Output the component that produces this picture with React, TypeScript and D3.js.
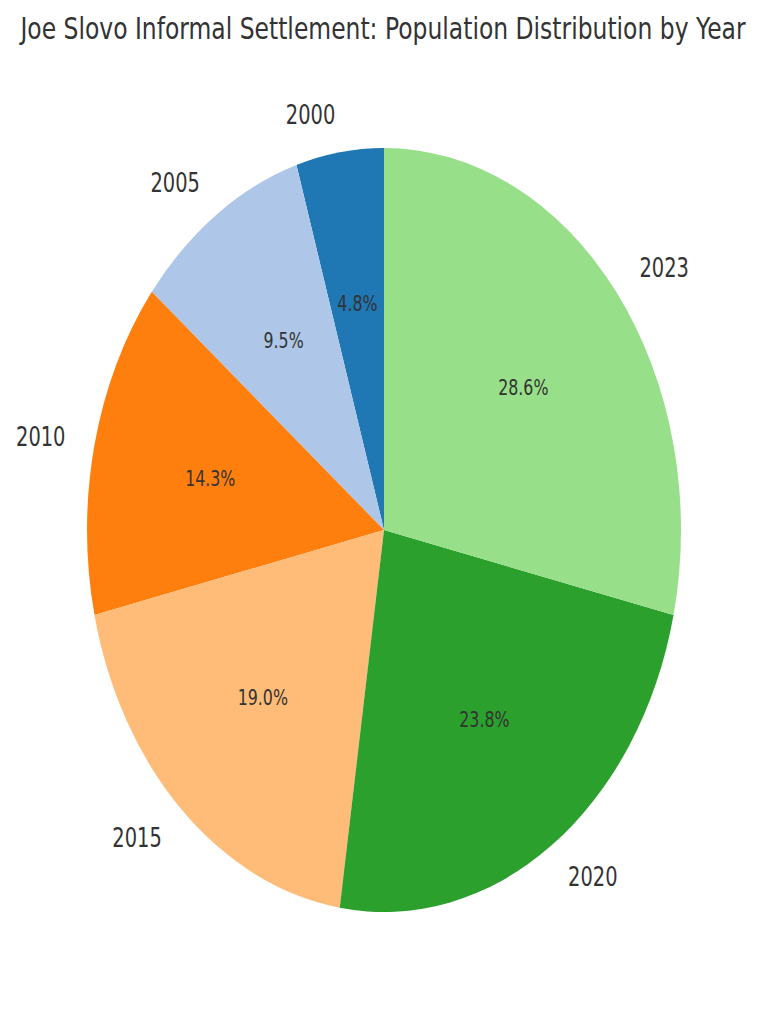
import * as d3 from 'd3';

const years = ['2000', '2005', '2010', '2015', '2020', '2023'];
const population = [5000, 10000, 15000, 20000, 25000, 30000];
const colors = ['#1f77b4', '#aec7e8', '#ff7f0e', '#ffbb78', '#2ca02c', '#98df8a'];

const W = 768;
const H = 1024;
const cx = 384;
const cy = 530;
const ry = 382;
const rx = 297;
const sx = rx / ry;
// text is squeezed horizontally like the rest of the figure
const textSx = 0.72;

const App = () => {
  const total = d3.sum(population);
  const pie = d3
    .pie<number>()
    .sort(null)
    .startAngle(0)
    .endAngle(-2 * Math.PI);
  const arcs = pie(population);
  const arc = d3.arc<d3.PieArcDatum<number>>().innerRadius(0).outerRadius(ry);

  const pos = (a: number, f: number) => [
    cx + f * rx * Math.sin(a),
    cy - f * ry * Math.cos(a),
  ];

  return (
    <svg width={W} height={H} style={{ position: 'absolute', left: 0, top: 0 }} fontFamily="DejaVu Sans">
      <text
        transform={`translate(${W / 2 - 1},39) scale(0.782,1)`}
        textAnchor="middle"
        fontSize={30}
        fill="#333"
      >
        Joe Slovo Informal Settlement: Population Distribution by Year
      </text>
      <g transform={`translate(${cx},${cy}) scale(${sx},1)`}>
        {arcs.map((d, i) => (
          <path key={years[i]} d={arc(d) || ''} fill={colors[i]} />
        ))}
      </g>
      {arcs.map((d, i) => {
        const mid = (d.startAngle + d.endAngle) / 2;
        const [lx, ly] = pos(mid, 1.1);
        const [px, py] = pos(mid, 0.6);
        const anchor = Math.sin(mid) < 0 ? 'end' : 'start';
        return (
          <g key={'t' + years[i]}>
            <text
              transform={`translate(${lx},${ly}) scale(${textSx},1)`}
              textAnchor={anchor}
              dominantBaseline="central"
              fontSize={27}
              fill="#333"
            >
              {years[i]}
            </text>
            <text
              transform={`translate(${px},${py}) scale(${textSx},1)`}
              textAnchor="middle"
              dominantBaseline="central"
              fontSize={22}
              fill="#333"
            >
              {((population[i] / total) * 100).toFixed(1)}%
            </text>
          </g>
        );
      })}
    </svg>
  );
};

export default App;
